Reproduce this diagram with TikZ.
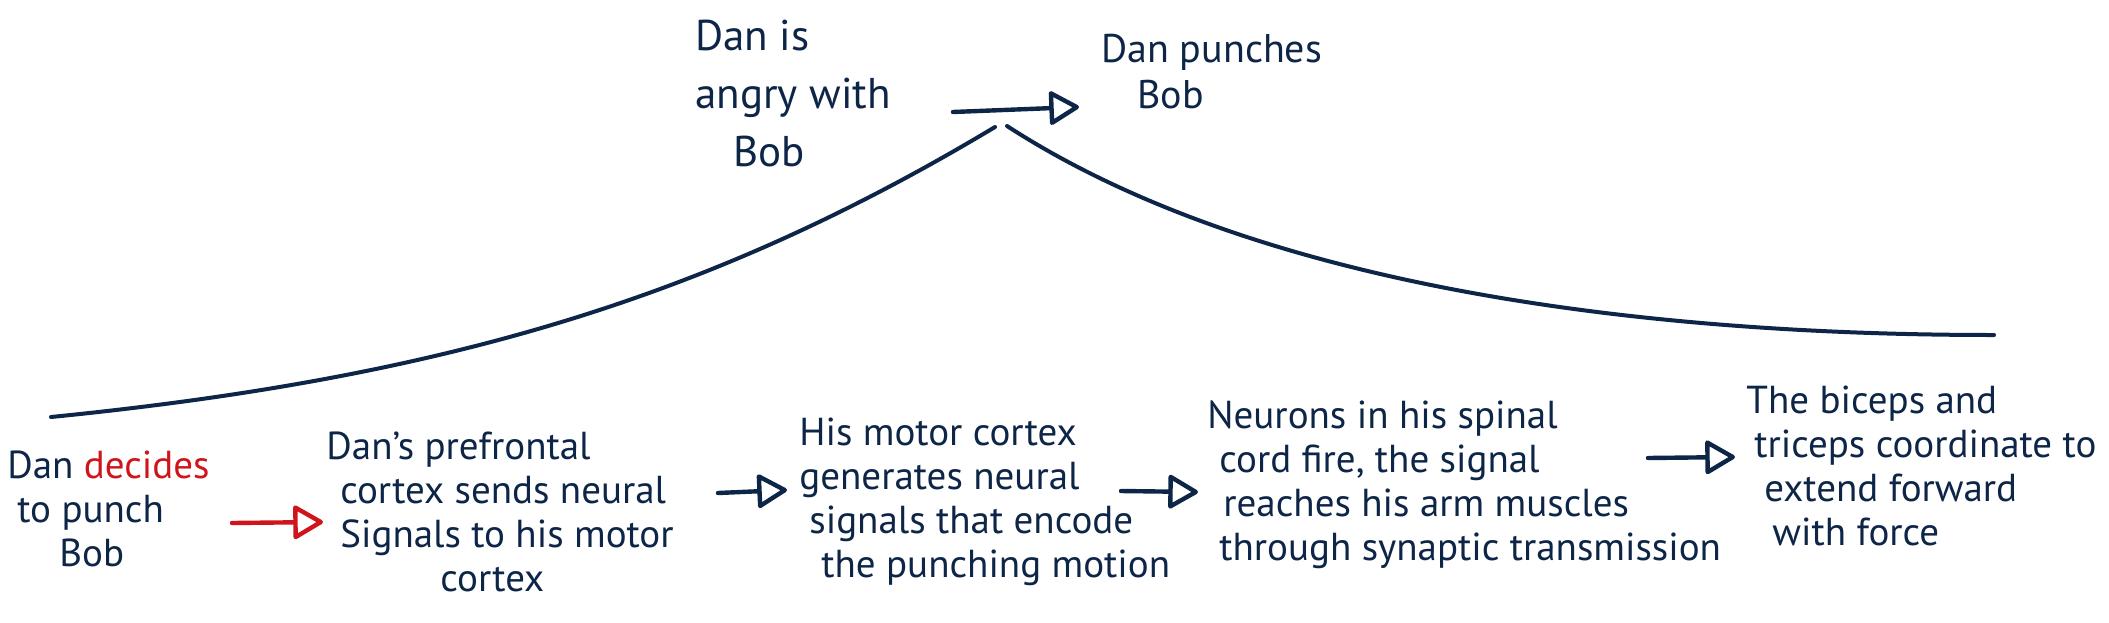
\documentclass[tikz,border=0pt]{standalone}
\usepackage{fontspec}
\setmainfont{PT Sans}
\usetikzlibrary{arrows.meta}
\definecolor{ink}{HTML}{0D2547}
\definecolor{redink}{HTML}{D0141C}
\begin{document}
\begin{tikzpicture}[x=0.5pt,y=-0.5pt,
  txt/.style={inner sep=0pt, align=left, anchor=north west, text=ink,
    font=\fontsize{19.5}{22}\selectfont},
  bigtxt/.style={txt, font=\fontsize{21.5}{29}\selectfont},
  conn/.style={draw=ink, line width=2.2pt, line cap=round,
    -{Triangle[open, round, length=16pt, width=18pt]}},
  redconn/.style={conn, draw=redink},
  branch/.style={draw=ink, line width=2pt, line cap=round},
]
\fill[white] (0,0) rectangle (2109,622);
\useasboundingbox (0,0) rectangle (2109,622);

% top level
\node[bigtxt] (angry) at (695,20) {Dan is\\angry with\\\hspace*{19pt}Bob};
\node[txt, font=\fontsize{20}{23}\selectfont] (punches) at (1101,34) {Dan punches\\\hspace*{18pt}Bob};

% bottom chain
\node[txt] (decides) at (7,450) {Dan \textcolor{redink}{decides}\\\hspace*{5pt}to punch\\\hspace*{26pt}Bob};
\node[txt] (prefrontal) at (326,431) {Dan’s prefrontal\\\hspace*{7pt}cortex sends neural\\\hspace*{7pt}Signals to his motor\\\hspace*{57pt}cortex};
\node[txt] (motor) at (799,417) {His motor cortex\\generates neural\\\hspace*{5pt}signals that encode\\\hspace*{11pt}the punching motion};
\node[txt] (spinal) at (1207,400) {Neurons in his spinal\\\hspace*{6pt}cord fire, the signal\\\hspace*{8pt}reaches his arm muscles\\\hspace*{6pt}through synaptic transmission};
\node[txt] (biceps) at (1746,385) {The biceps and\\\hspace*{4pt}triceps coordinate to\\\hspace*{9pt}extend forward\\\hspace*{13pt}with force};

% arrow ends
\coordinate (t0) at (953,112);  \coordinate (t1) at (1079,107);
\coordinate (r0) at (232,523);  \coordinate (r1) at (323,522);
\coordinate (m0) at (718,493);  \coordinate (m1) at (787,490);
\coordinate (s0) at (1121,491); \coordinate (s1) at (1198,492);
\coordinate (b0) at (1648,458); \coordinate (b1) at (1735,457);

\draw[conn] (t0) -- (t1);
\draw[redconn] (r0) -- (r1);
\draw[conn] (m0) -- (m1);
\draw[conn] (s0) -- (s1);
\draw[conn] (b0) -- (b1);

% branches
\coordinate (apexL) at (995,127);
\coordinate (apexR) at (1007,126);
\coordinate (endL) at (51,417);
\coordinate (endR) at (1994,335);
\draw[branch] (apexL) .. controls (715,295) and (451,377) .. (endL);
\draw[branch] (apexR) .. controls (1257,288) and (1644,335) .. (endR);
\end{tikzpicture}
\end{document}
